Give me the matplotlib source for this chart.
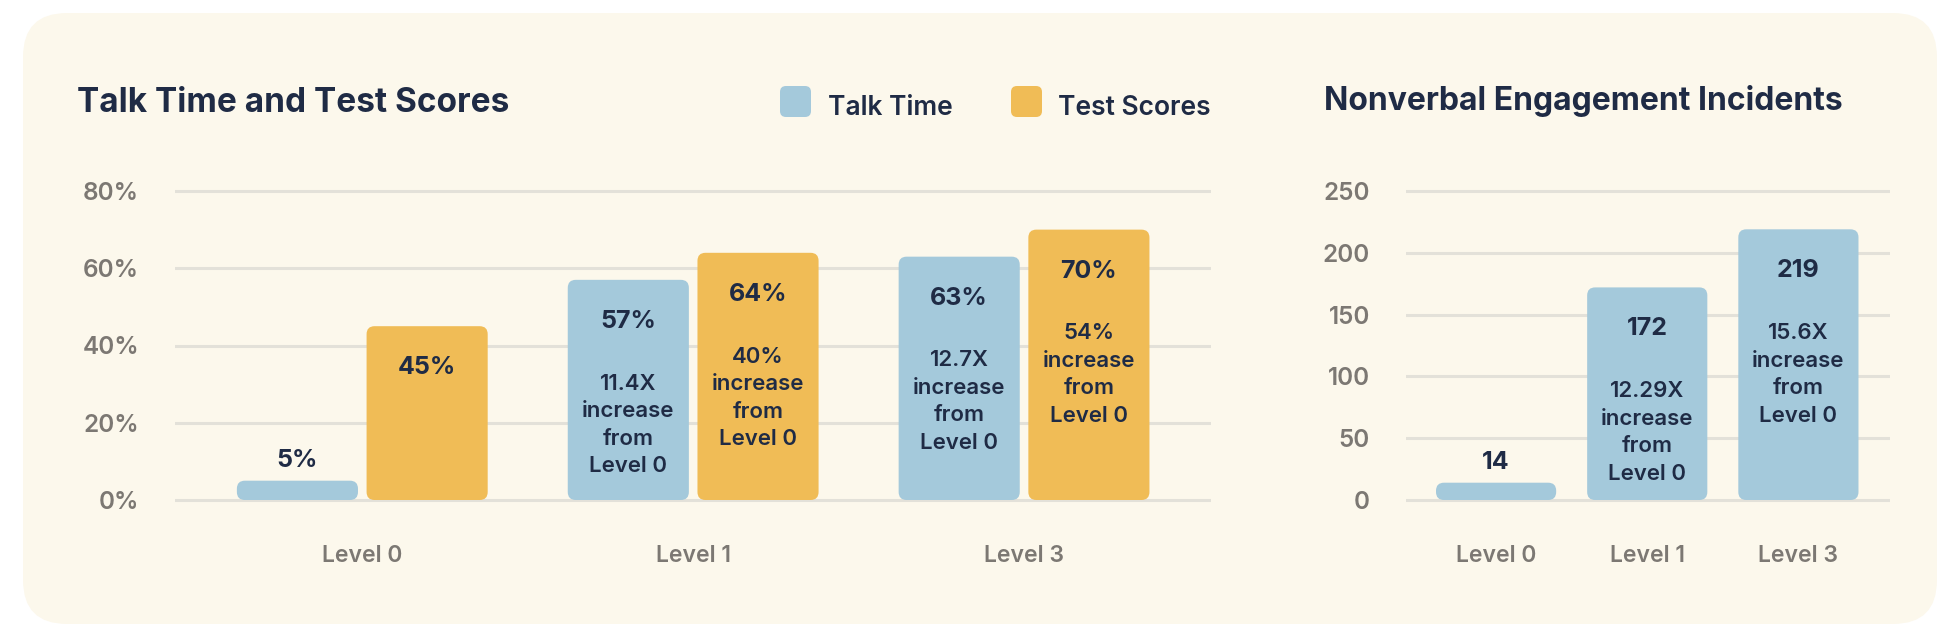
import matplotlib
matplotlib.use("Agg")
import matplotlib.pyplot as plt
from matplotlib.patches import FancyBboxPatch
from matplotlib.transforms import IdentityTransform

plt.rcParams["font.family"] = ["Inter", "DejaVu Sans"]

levels = ["Level 0", "Level 1", "Level 3"]
talk_time = [5, 57, 63]
test_scores = [45, 64, 70]
talk_notes = [None, "11.4X\nincrease\nfrom\nLevel 0", "12.7X\nincrease\nfrom\nLevel 0"]
test_notes = [None, "40%\nincrease\nfrom\nLevel 0", "54%\nincrease\nfrom\nLevel 0"]

incidents = [14, 172, 219]
incident_notes = [None, "12.29X\nincrease\nfrom\nLevel 0", "15.6X\nincrease\nfrom\nLevel 0"]

pct_ticks = [0, 20, 40, 60, 80]
count_ticks = [0, 50, 100, 150, 200, 250]

BLUE = "#a4c9db"
GOLD = "#f0bc56"
NAVY = "#1f2b45"
GREY = "#7c7873"
GRID = "#e3e1d9"
PANEL = "#fcf8ec"

W, H = 1958, 642
fig = plt.figure(figsize=(W / 100, H / 100), dpi=100)
fig.patch.set_facecolor("white")

# cream rounded panel behind everything
fig.add_artist(FancyBboxPatch((23, H - 624), 1914, 611,
                              boxstyle="round,pad=0,rounding_size=44",
                              fc=PANEL, ec="none", transform=IdentityTransform(), zorder=0))


def make_axes(left_px, right_px, ylo, yhi, zero_px=500, top_px=191):
    # map value range to the pixel rows of the 0 and top gridlines
    ppu = (zero_px - top_px) / (yhi - ylo)
    pad = 8 / ppu
    y0 = ylo - pad
    y1 = yhi + pad
    bottom = H - (zero_px + pad * ppu)
    height = (y1 - y0) * ppu
    ax = fig.add_axes([left_px / W, bottom / H, (right_px - left_px) / W, height / H])
    ax.set_ylim(y0, y1)
    ax.set_facecolor("none")
    for s in ax.spines.values():
        s.set_visible(False)
    ax.set_axisbelow(True)
    ax.yaxis.grid(True, color=GRID, linewidth=2.2)
    ax.tick_params(length=0, labelcolor=GREY)
    ax.tick_params(axis="y", pad=26, labelsize=17.5)
    ax.tick_params(axis="x", pad=27, labelsize=16.5)
    return ax


def round_bars(ax, bars, radius_px=8):
    bb = ax.get_window_extent()
    x0, x1 = ax.get_xlim()
    y0, y1 = ax.get_ylim()
    xpx = bb.width / (x1 - x0)
    ypx = bb.height / (y1 - y0)
    for b in bars:
        x, y = b.get_xy()
        p = FancyBboxPatch((x, y), b.get_width(), b.get_height(),
                           boxstyle="round,pad=0,rounding_size=%f" % (radius_px / xpx),
                           mutation_aspect=xpx / ypx,
                           fc=b.get_facecolor(), ec="none", clip_on=False, zorder=2)
        b.remove()
        ax.add_patch(p)


def label_bar(ax, x, val, text, note, small):
    if small:
        ax.annotate(text, (x, val), xytext=(0, 10), textcoords="offset points",
                    ha="center", va="baseline", fontsize=18, fontweight="bold",
                    color=NAVY, annotation_clip=False, zorder=3)
        return
    ax.annotate(text, (x, val), xytext=(0, -34.5), textcoords="offset points",
                ha="center", va="baseline", fontsize=18, fontweight="bold",
                color=NAVY, annotation_clip=False, zorder=3)
    if note:
        ax.annotate(note, (x, val), xytext=(0, -67.5), textcoords="offset points",
                    ha="center", va="top", fontsize=16, fontweight="semibold",
                    color=NAVY, linespacing=1.47, annotation_clip=False, zorder=3)


# ---- left: talk time and test scores
ax1 = make_axes(175, 1211, 0, 80)
ax1.set_xlim(-0.566, 2.565)
xs = list(range(len(levels)))
off = 0.196
bw = 0.366
b1 = ax1.bar([x - off for x in xs], talk_time, bw, color=BLUE)
b2 = ax1.bar([x + off for x in xs], test_scores, bw, color=GOLD)
ax1.set_yticks(pct_ticks)
ax1.set_yticklabels(["%d%%" % t for t in pct_ticks])
ax1.set_xticks(xs)
ax1.set_xticklabels(levels)
for lab in ax1.get_xticklabels() + ax1.get_yticklabels():
    lab.set_fontweight("semibold")
round_bars(ax1, b1)
round_bars(ax1, b2)
for i in xs:
    label_bar(ax1, i - off, talk_time[i], "%d%%" % talk_time[i], talk_notes[i], talk_time[i] < 12)
    label_bar(ax1, i + off, test_scores[i], "%d%%" % test_scores[i], test_notes[i], test_scores[i] < 12)

# ---- right: nonverbal engagement incidents
ax2 = make_axes(1406, 1890, 0, 250)
ax2.set_xlim(-0.596, 2.606)
b3 = ax2.bar(xs, incidents, 0.795, color=BLUE)
ax2.set_yticks(count_ticks)
ax2.set_xticks(xs)
ax2.set_xticklabels(levels)
for lab in ax2.get_xticklabels() + ax2.get_yticklabels():
    lab.set_fontweight("semibold")
round_bars(ax2, b3)
for i in xs:
    label_bar(ax2, i, incidents[i], str(incidents[i]), incident_notes[i], incidents[i] < 30)

# ---- titles and legend
fig.text(77 / W, (H - 112) / H, "Talk Time and Test Scores", fontsize=24,
         fontweight="bold", color=NAVY, va="baseline")
fig.text(1324 / W, (H - 110) / H, "Nonverbal Engagement Incidents", fontsize=23,
         fontweight="bold", color=NAVY, va="baseline")

for x_sq, x_txt, col, name in [(780, 828, BLUE, "Talk Time"), (1011, 1058, GOLD, "Test Scores")]:
    fig.add_artist(FancyBboxPatch((x_sq, H - 117), 31, 31,
                                  boxstyle="round,pad=0,rounding_size=6",
                                  fc=col, ec="none", transform=IdentityTransform()))
    fig.text(x_txt / W, (H - 115) / H, name, fontsize=19, fontweight="semibold",
             color=NAVY, va="baseline")

fig.savefig("out.png", dpi=100, facecolor="white")
